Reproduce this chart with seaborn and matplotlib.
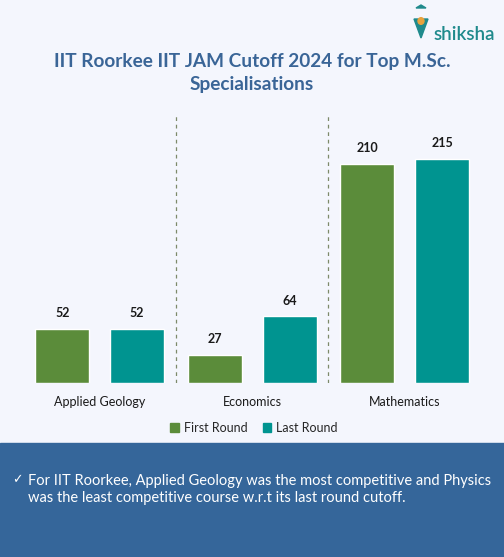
import numpy as np
import pandas as pd
import matplotlib
matplotlib.use("Agg")
import matplotlib.pyplot as plt
import matplotlib.patches as mpatches
import seaborn as sns

# chart data
courses = ["Applied Geology", "Economics", "Mathematics"]
rounds = ["First Round", "Last Round"]
first_round = [52, 27, 210]
last_round = [52, 64, 215]

title = "IIT Roorkee IIT JAM Cutoff 2024 for Top M.Sc.\nSpecialisations"
note = ("For IIT Roorkee, Applied Geology was the most competitive and Physics\n"
        "was the least competitive course w.r.t its last round cutoff.")

bg = "#f4f6fd"
green = "#5b8c3a"
teal = "#009490"
title_blue = "#3a6597"
box_blue = "#35669a"

df = pd.DataFrame({
    "course": courses * 2,
    "round": [rounds[0]] * 3 + [rounds[1]] * 3,
    "cutoff": first_round + last_round,
})

sns.set_theme(style="white")
plt.rcParams["font.family"] = ["Lato", "DejaVu Sans"]

fig = plt.figure(figsize=(5.04, 5.57), dpi=100)
fig.patch.set_facecolor(bg)
W, H = 504, 557

ax = fig.add_axes([23.5 / W, 1 - 383 / H, (481 - 23.5) / W, (383 - 114) / H])
ax.set_facecolor(bg)
sns.barplot(data=df, x="course", y="cutoff", hue="round", order=courses,
            hue_order=rounds, palette=[green, teal], width=0.98, gap=0.28,
            saturation=1, legend=False, ax=ax)

for cont in ax.containers:
    ax.bar_label(cont, padding=7, fontsize=9, fontweight="bold", color="#1a1a1a")

ax.set_xlim(-0.5, 2.5)
ax.set_ylim(0, 258)
for xs in [0.5, 1.5]:
    ax.axvline(xs, color="#7d8a6a", lw=0.9, ls=(0, (3, 3)))
for s in ax.spines.values():
    s.set_visible(False)
ax.set_yticks([])
ax.set_xlabel("")
ax.set_ylabel("")
ax.tick_params(axis="x", length=0, pad=9, labelsize=9, labelcolor="#1a1a1a")

# legend
handles = [mpatches.Patch(color=green, label=rounds[0]),
           mpatches.Patch(color=teal, label=rounds[1])]
fig.legend(handles=handles, loc="center", bbox_to_anchor=(254 / W, 1 - 428 / H),
           ncol=2, frameon=False, fontsize=9, handlelength=0.7, handleheight=0.7,
           handletextpad=0.4, columnspacing=1.2)

# title
fig.text(0.5, 1 - 73 / H, title, ha="center", va="center", fontsize=13.7,
         fontweight="bold", color=title_blue, linespacing=1.45)

# logo
fig.text(495 / W, 1 - 34 / H, "shiksha", ha="right", va="center", fontsize=13.5,
         fontweight="semibold", color="#1f8a8c")
icon = mpatches.Polygon([[414 / W, 1 - 19 / H], [428 / W, 1 - 19 / H],
                         [421 / W, 1 - 38 / H]], closed=True,
                        transform=fig.transFigure, color="#1f8a8c")
fig.patches.append(icon)
fig.patches.append(mpatches.Circle((421 / W, 1 - 21 / H), 3 / W,
                                   transform=fig.transFigure, color="#e8a33d"))
fig.patches.append(mpatches.Polygon([[416 / W, 1 - 8 / H], [426 / W, 1 - 8 / H],
                                     [421 / W, 1 - 5 / H]], closed=True,
                                    transform=fig.transFigure, color="#1f8a8c"))

# bottom note box
fig.patches.append(mpatches.Rectangle((0, 0), 1, 1 - 443 / H,
                                      transform=fig.transFigure,
                                      color=box_blue, zorder=0))
fig.text(12 / W, 1 - 480 / H, "\u2713", ha="left", va="center", fontsize=9,
         color="white", family=["DejaVu Sans"])
fig.text(28 / W, 1 - 489.5 / H, note, ha="left", va="center", fontsize=10.5,
         color="white", linespacing=1.3)

fig.savefig("out.png", dpi=100, facecolor=bg)
